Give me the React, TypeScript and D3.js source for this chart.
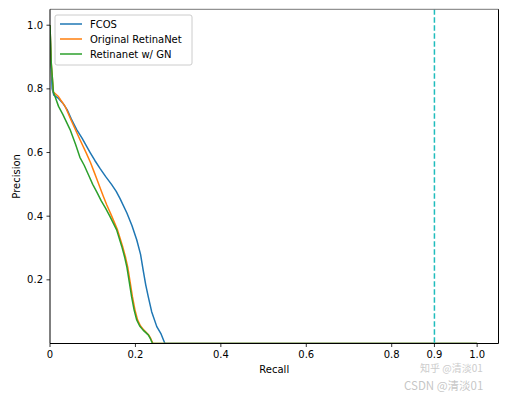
import React from "react";
import * as d3 from "d3";

const seriesNames = ["FCOS", "Original RetinaNet", "Retinanet w/ GN"];
const seriesColors = ["#1f77b4", "#ff7f0e", "#2ca02c"];

const fcosRecall = [0, 0.002, 0.005, 0.009, 0.02, 0.03, 0.04, 0.05, 0.0625, 0.075, 0.094, 0.105, 0.117, 0.13, 0.144, 0.155, 0.164, 0.18, 0.192, 0.203, 0.212, 0.218, 0.224, 0.23, 0.238, 0.25, 0.26, 0.269, 1.0];
const fcosPrecision = [1.0, 0.9, 0.8, 0.78, 0.77, 0.755, 0.735, 0.705, 0.672, 0.645, 0.6, 0.575, 0.55, 0.525, 0.5, 0.478, 0.455, 0.41, 0.37, 0.326, 0.28, 0.231, 0.185, 0.147, 0.1, 0.053, 0.03, 0.0, 0.0];

const origRecall = [0, 0.003, 0.008, 0.019, 0.025, 0.035, 0.05, 0.07, 0.085, 0.095, 0.103, 0.11, 0.117, 0.125, 0.133, 0.143, 0.158, 0.17, 0.177, 0.182, 0.188, 0.193, 0.199, 0.205, 0.212, 0.22, 0.231, 0.236, 0.241, 1.0];
const origPrecision = [1.0, 0.88, 0.79, 0.777, 0.765, 0.746, 0.7, 0.641, 0.598, 0.568, 0.54, 0.515, 0.49, 0.462, 0.435, 0.405, 0.357, 0.305, 0.27, 0.24, 0.19, 0.147, 0.105, 0.074, 0.055, 0.042, 0.027, 0.015, 0.0, 0.0];

const gnRecall = [0, 0.003, 0.008, 0.012, 0.02, 0.03, 0.047, 0.06, 0.07, 0.08, 0.09, 0.1, 0.11, 0.12, 0.13, 0.14, 0.156, 0.168, 0.175, 0.18, 0.186, 0.191, 0.197, 0.203, 0.21, 0.218, 0.23, 0.235, 0.24, 1.0];
const gnPrecision = [1.0, 0.88, 0.79, 0.775, 0.745, 0.72, 0.672, 0.625, 0.585, 0.56, 0.53, 0.5, 0.475, 0.448, 0.425, 0.4, 0.357, 0.305, 0.27, 0.24, 0.19, 0.147, 0.105, 0.074, 0.055, 0.042, 0.027, 0.015, 0.0, 0.0];

const xTicks = [0, 0.2, 0.4, 0.6, 0.8, 0.9, 1.0];
const xTickLabels = ["0", "0.2", "0.4", "0.6", "0.8", "0.9", "1.0"];
const yTicks = [0.2, 0.4, 0.6, 0.8, 1.0];
const yTickLabels = ["0.2", "0.4", "0.6", "0.8", "1.0"];
const thresholdRecall = 0.9;

const W = 514, H = 398;
const left = 50, right = 498.5, top = 9.3, bottom = 343.5;

export default function App() {
  const x = d3.scaleLinear().domain([0, 1.05]).range([left, right]);
  const y = d3.scaleLinear().domain([0, 1.05]).range([bottom, top]);
  const line = d3.line<[number, number]>().x(d => x(d[0])).y(d => y(d[1]));
  const series = [
    fcosRecall.map((r, i) => [r, fcosPrecision[i]] as [number, number]),
    origRecall.map((r, i) => [r, origPrecision[i]] as [number, number]),
    gnRecall.map((r, i) => [r, gnPrecision[i]] as [number, number]),
  ];
  const font = "DejaVu Sans, sans-serif";
  return (
    <svg width={W} height={H} style={{ position: "absolute", left: 0, top: 0, background: "#fff" }} fontFamily={font}>
      <rect x={0} y={0} width={W} height={H} fill="#fff" />
      <defs>
        <clipPath id="plotclip">
          <rect x={left} y={top} width={right - left} height={bottom - top} />
        </clipPath>
      </defs>
      <g clipPath="url(#plotclip)">
        {series.map((s, i) => (
          <path key={i} d={line(s) || ""} fill="none" stroke={seriesColors[i]} strokeWidth={1.5} strokeLinejoin="round" />
        ))}
      </g>
      <line x1={x(thresholdRecall)} x2={x(thresholdRecall)} y1={top} y2={bottom} stroke="#1fbcbc" strokeWidth={1.5} strokeDasharray="5.5,2.5" />
      {/* spines */}
      <line x1={left} x2={right} y1={top} y2={top} stroke="#777" strokeWidth={1} />
      <line x1={left} x2={right} y1={bottom} y2={bottom} stroke="#000" strokeWidth={1} />
      <line x1={left} x2={left} y1={top} y2={bottom} stroke="#000" strokeWidth={1} />
      <line x1={right} x2={right} y1={top} y2={bottom} stroke="#000" strokeWidth={1} />
      {/* x ticks */}
      {xTicks.map((t, i) => (
        <g key={"x" + i}>
          <line x1={x(t)} x2={x(t)} y1={bottom} y2={bottom + 3.5} stroke="#000" strokeWidth={0.8} />
          <text x={x(t)} y={bottom + 14.5} fontSize={10} textAnchor="middle" fill="#000">{xTickLabels[i]}</text>
        </g>
      ))}
      {yTicks.map((t, i) => (
        <g key={"y" + i}>
          <line x1={left - 3.5} x2={left} y1={y(t)} y2={y(t)} stroke="#000" strokeWidth={0.8} />
          <text x={left - 7} y={y(t) + 3.6} fontSize={10} textAnchor="end" fill="#000">{yTickLabels[i]}</text>
        </g>
      ))}
      <text x={(left + right) / 2} y={373} fontSize={10} textAnchor="middle" fill="#000">Recall</text>
      <text transform={`translate(19.5,${(top + bottom) / 2}) rotate(-90)`} fontSize={10} textAnchor="middle" fill="#000">Precision</text>
      {/* legend */}
      <rect x={55} y={15} width={137} height={50} rx={2} fill="#fff" fillOpacity={0.8} stroke="#ccc" strokeWidth={1} />
      {seriesNames.map((n, i) => (
        <g key={"l" + i}>
          <line x1={60} x2={82} y1={24 + i * 15} y2={24 + i * 15} stroke={seriesColors[i]} strokeWidth={1.5} />
          <text x={90} y={27.5 + i * 15} fontSize={10} fill="#000">{n}</text>
        </g>
      ))}
      {/* watermark */}
      <text x={420} y={372} fontSize={10} fill="#ccc" fontFamily="Noto Sans CJK SC, sans-serif">知乎 @清淡01</text>
      <text x={404} y={390} fontSize={11.5} fill="#bbb" fillOpacity={0.85} fontFamily="Noto Sans CJK SC, sans-serif">CSDN @清淡01</text>
    </svg>
  );
}
